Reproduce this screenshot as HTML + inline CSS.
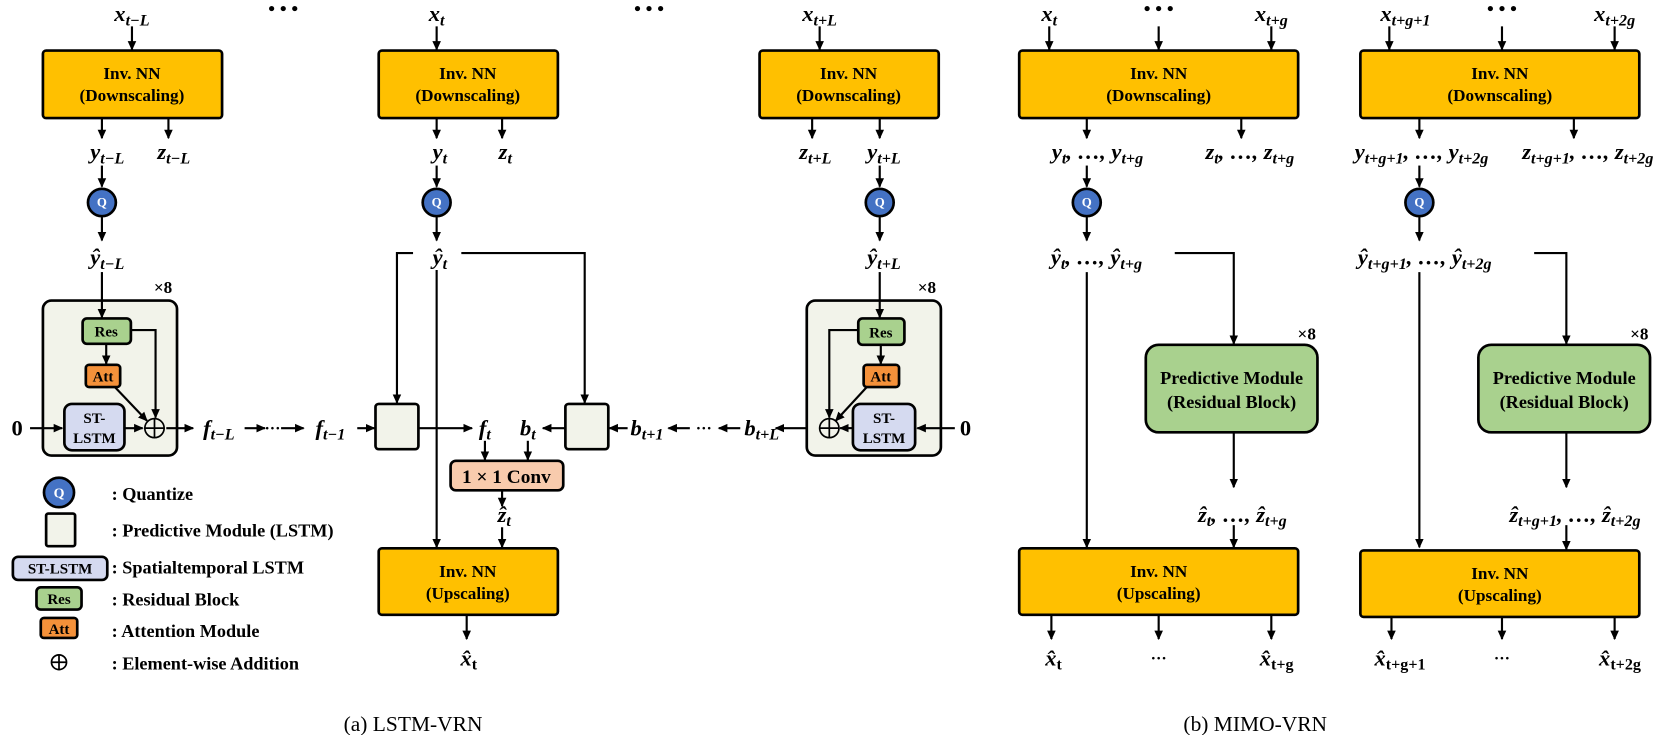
<!DOCTYPE html>
<html><head><meta charset="utf-8"><style>
html,body{margin:0;padding:0;background:#fff;}
svg{display:block;}
text{font-family:"Liberation Serif",serif;}
.b{font-weight:bold;font-size:16px;text-anchor:middle;}
.m{font-weight:bold;font-style:italic;font-size:21px;text-anchor:middle;}
.s{font-size:15px;}
.lg{font-weight:bold;font-size:17px;}
.cap{font-size:20px;text-anchor:middle;}
</style></head><body>
<svg width="1679" height="735" viewBox="0 0 1565 697" preserveAspectRatio="none" xmlns="http://www.w3.org/2000/svg">
<defs><marker id="a" markerWidth="9" markerHeight="9" refX="8" refY="4.5" orient="auto" markerUnits="userSpaceOnUse"><path d="M0,0.5 L9,4.5 L0,8.5 z" fill="#000"/></marker></defs>
<g stroke="#000" stroke-width="2.5">
<rect x="40" y="285" width="125" height="147" rx="8" fill="#F2F3EA"/>
<rect x="752" y="285" width="125" height="147" rx="8" fill="#F2F3EA"/>
</g>
<g stroke="#000" stroke-width="2" fill="none" marker-end="url(#a)">
<path d="M123,25V47"/><path d="M407,25V47"/><path d="M764,25V47"/><path d="M978,25V47"/><path d="M1080,25V47"/><path d="M1185,25V47"/><path d="M1295,25V47"/><path d="M1400,25V47"/><path d="M1505,25V47"/>
<path d="M95,112V131"/><path d="M157,112V131"/><path d="M407,112V131"/><path d="M468,112V131"/><path d="M757,112V131"/><path d="M820,112V131"/><path d="M1013,112V131"/><path d="M1157,112V131"/><path d="M1323,112V131"/><path d="M1467,112V131"/>
<path d="M95,157V177"/><path d="M407,157V177"/><path d="M820,157V177"/><path d="M1013,157V177"/><path d="M1323,157V177"/>
<path d="M95,206V228"/><path d="M407,206V228"/><path d="M820,206V228"/><path d="M1013,206V228"/><path d="M1323,206V228"/>
<path d="M95,258V301"/><path d="M99,326V345"/>
<path d="M122,313H145V396"/>
<path d="M107,367L137,399"/>
<path d="M28,406H58"/><path d="M116,406H133"/><path d="M155,406H180"/><path d="M228,406H247"/><path d="M262,406H283"/><path d="M333,406H349"/>
<path d="M385,240H370V382"/>
<path d="M430,240H545V382"/>
<path d="M407,256V519"/>
<path d="M390,406H440"/>
<path d="M527,406H506"/>
<path d="M585,406H568"/>
<path d="M643,406H623"/>
<path d="M690,406H670"/>
<path d="M752,406H723"/>
<path d="M820,258V301"/><path d="M821,327V345"/>
<path d="M800,313H773V396"/>
<path d="M808,367L779,399"/>
<path d="M795,406H783"/>
<path d="M890,406H855"/>
<path d="M452,418V436"/><path d="M492,418V436"/><path d="M468,465V480"/><path d="M468,500V519"/><path d="M435,583V606"/>
<path d="M1095,240H1150V326"/><path d="M1013,258V519"/><path d="M1150,410V462"/><path d="M1150,498V519"/>
<path d="M1430,240H1460V326"/><path d="M1323,258V519"/><path d="M1460,410V462"/><path d="M1460,498V521"/>
<path d="M980,583V606"/><path d="M1080,583V606"/><path d="M1185,583V606"/><path d="M1297,585V606"/><path d="M1400,585V606"/><path d="M1505,585V606"/>
</g>
<g stroke="#000" stroke-width="2.5">
<rect x="40" y="48" width="167" height="64" rx="3" fill="#FFC000"/>
<rect x="353" y="48" width="167" height="64" rx="3" fill="#FFC000"/>
<rect x="708" y="48" width="167" height="64" rx="3" fill="#FFC000"/>
<rect x="950" y="48" width="260" height="64" rx="3" fill="#FFC000"/>
<rect x="1268" y="48" width="260" height="64" rx="3" fill="#FFC000"/>
<rect x="353" y="520" width="167" height="63" rx="3" fill="#FFC000"/>
<rect x="950" y="520" width="260" height="63" rx="3" fill="#FFC000"/>
<rect x="1268" y="522" width="260" height="63" rx="3" fill="#FFC000"/>
<circle cx="95" cy="192" r="13" fill="#4472C4"/>
<circle cx="407" cy="192" r="13" fill="#4472C4"/>
<circle cx="820" cy="192" r="13" fill="#4472C4"/>
<circle cx="1013" cy="192" r="13" fill="#4472C4"/>
<circle cx="1323" cy="192" r="13" fill="#4472C4"/>
<rect x="77" y="302" width="45" height="24" rx="4" fill="#A9D18E"/>
<rect x="80" y="346" width="32" height="21" rx="3" fill="#F4913A"/>
<rect x="60" y="383" width="56" height="44" rx="7" fill="#D5DAF0"/>
<rect x="800" y="302" width="43" height="25" rx="4" fill="#A9D18E"/>
<rect x="805" y="346" width="33" height="21" rx="3" fill="#F4913A"/>
<rect x="795" y="383" width="58" height="44" rx="7" fill="#D5DAF0"/>
<rect x="350" y="383" width="40" height="43" rx="3" fill="#F2F3EA"/>
<rect x="527" y="383" width="40" height="43" rx="3" fill="#F2F3EA"/>
<rect x="420" y="437" width="105" height="28" rx="5" fill="#F8CBAD"/>
<rect x="1068" y="327" width="160" height="83" rx="12" fill="#A9D18E"/>
<rect x="1378" y="327" width="160" height="83" rx="12" fill="#A9D18E"/>
<circle cx="55" cy="467" r="14" fill="#4472C4"/>
<rect x="43" y="487" width="27" height="31" rx="2" fill="#F2F3EA"/>
<rect x="12" y="528" width="88" height="22" rx="5" fill="#D5DAF0"/>
<rect x="34" y="557" width="42" height="21" rx="4" fill="#A9D18E"/>
<rect x="38" y="586" width="34" height="19" rx="3" fill="#F4913A"/>
</g>
<g stroke="#000" stroke-width="1.6" fill="none">
<circle cx="144" cy="406" r="9" fill="#F2F3EA"/><path d="M135,406H153M144,397V415"/>
<circle cx="773" cy="406" r="9" fill="#F2F3EA"/><path d="M764,406H782M773,397V415"/>
<circle cx="55" cy="628" r="7"/><path d="M48,628H62M55,621V635"/>
</g>
<g class="b">
<text x="123" y="75">Inv. NN</text><text x="123" y="96">(Downscaling)</text>
<text x="436" y="75">Inv. NN</text><text x="436" y="96">(Downscaling)</text>
<text x="791" y="75">Inv. NN</text><text x="791" y="96">(Downscaling)</text>
<text x="1080" y="75">Inv. NN</text><text x="1080" y="96">(Downscaling)</text>
<text x="1398" y="75">Inv. NN</text><text x="1398" y="96">(Downscaling)</text>
<text x="436" y="547">Inv. NN</text><text x="436" y="568">(Upscaling)</text>
<text x="1080" y="547">Inv. NN</text><text x="1080" y="568">(Upscaling)</text>
<text x="1398" y="549">Inv. NN</text><text x="1398" y="570">(Upscaling)</text>
<text x="1148" y="364" font-size="17">Predictive Module</text><text x="1148" y="387" font-size="17">(Residual Block)</text>
<text x="1458" y="364" font-size="17">Predictive Module</text><text x="1458" y="387" font-size="17">(Residual Block)</text>
<text x="472" y="458" font-size="18">1 × 1 Conv</text>
<g fill="#fff" font-size="12"><text x="95" y="196">Q</text><text x="407" y="196">Q</text><text x="820" y="196">Q</text><text x="1013" y="196">Q</text><text x="1323" y="196">Q</text><text x="55" y="472" font-size="13">Q</text></g>
<text x="99" y="319" font-size="14">Res</text><text x="96" y="362" font-size="14">Att</text>
<text x="88" y="401" font-size="14">ST-</text><text x="88" y="420" font-size="14">LSTM</text>
<text x="821" y="320" font-size="14">Res</text><text x="821" y="362" font-size="14">Att</text>
<text x="824" y="401" font-size="14">ST-</text><text x="824" y="420" font-size="14">LSTM</text>
<text x="56" y="544" font-size="14">ST-LSTM</text><text x="55" y="573" font-size="14">Res</text><text x="55" y="601" font-size="14">Att</text>
<text x="152" y="278" font-size="16">×8</text><text x="864" y="278" font-size="16">×8</text>
<text x="1218" y="322" font-size="16">×8</text><text x="1528" y="322" font-size="16">×8</text>
<text x="16" y="413" font-size="21">0</text><text x="900" y="413" font-size="21">0</text>
<text x="264" y="14" font-size="18">• • •</text><text x="605" y="14" font-size="18">• • •</text>
<text x="1080" y="14" font-size="18">• • •</text><text x="1400" y="14" font-size="18">• • •</text>
</g>
<g class="lg">
<text x="104" y="474">: Quantize</text>
<text x="104" y="509">: Predictive Module (LSTM)</text>
<text x="104" y="544">: Spatialtemporal LSTM</text>
<text x="104" y="574">: Residual Block</text>
<text x="104" y="604">: Attention Module</text>
<text x="104" y="635">: Element-wise Addition</text>
</g>
<g class="m">
<text x="123" y="20">x<tspan class="s" dy="4">t−L</tspan></text>
<text x="407" y="20">x<tspan class="s" dy="4">t</tspan></text>
<text x="764" y="20">x<tspan class="s" dy="4">t+L</tspan></text>
<text x="978" y="20">x<tspan class="s" dy="4">t</tspan></text>
<text x="1185" y="20">x<tspan class="s" dy="4">t+g</tspan></text>
<text x="1310" y="20">x<tspan class="s" dy="4">t+g+1</tspan></text>
<text x="1505" y="20">x<tspan class="s" dy="4">t+2g</tspan></text>
<text x="100" y="151">y<tspan class="s" dy="4">t−L</tspan></text>
<text x="162" y="151">z<tspan class="s" dy="4">t−L</tspan></text>
<text x="410" y="151">y<tspan class="s" dy="4">t</tspan></text>
<text x="471" y="151">z<tspan class="s" dy="4">t</tspan></text>
<text x="760" y="151">z<tspan class="s" dy="4">t+L</tspan></text>
<text x="824" y="151">y<tspan class="s" dy="4">t+L</tspan></text>
<text x="1023" y="151">y<tspan class="s" dy="4">t</tspan><tspan dy="-4">, …, y</tspan><tspan class="s" dy="4">t+g</tspan></text>
<text x="1165" y="151">z<tspan class="s" dy="4">t</tspan><tspan dy="-4">, …, z</tspan><tspan class="s" dy="4">t+g</tspan></text>
<text x="1325" y="151">y<tspan class="s" dy="4">t+g+1</tspan><tspan dy="-4">, …, y</tspan><tspan class="s" dy="4">t+2g</tspan></text>
<text x="1480" y="151">z<tspan class="s" dy="4">t+g+1</tspan><tspan dy="-4">, …, z</tspan><tspan class="s" dy="4">t+2g</tspan></text>
<text x="100" y="251">ŷ<tspan class="s" dy="4">t−L</tspan></text>
<text x="410" y="251">ŷ<tspan class="s" dy="4">t</tspan></text>
<text x="824" y="251">ŷ<tspan class="s" dy="4">t+L</tspan></text>
<text x="1022" y="251">ŷ<tspan class="s" dy="4">t</tspan><tspan dy="-4">, …, ŷ</tspan><tspan class="s" dy="4">t+g</tspan></text>
<text x="1328" y="251">ŷ<tspan class="s" dy="4">t+g+1</tspan><tspan dy="-4">, …, ŷ</tspan><tspan class="s" dy="4">t+2g</tspan></text>
<text x="204" y="413">f<tspan class="s" dy="4">t−L</tspan></text>
<text x="254" y="411" font-style="normal" font-size="15">···</text>
<text x="308" y="413">f<tspan class="s" dy="4">t−1</tspan></text>
<text x="452" y="413">f<tspan class="s" dy="4">t</tspan></text>
<text x="492" y="413">b<tspan class="s" dy="4">t</tspan></text>
<text x="603" y="413">b<tspan class="s" dy="4">t+1</tspan></text>
<text x="656" y="411" font-style="normal" font-size="15">···</text>
<text x="710" y="413">b<tspan class="s" dy="4">t+L</tspan></text>
<text x="470" y="495">ẑ<tspan class="s" dy="4">t</tspan></text>
<text x="1158" y="495">ẑ<tspan class="s" dy="4">t</tspan><tspan dy="-4">, …, ẑ</tspan><tspan class="s" dy="4">t+g</tspan></text>
<text x="1468" y="495">ẑ<tspan class="s" dy="4">t+g+1</tspan><tspan dy="-4">, …, ẑ</tspan><tspan class="s" dy="4">t+2g</tspan></text>
<text x="437" y="631">x̂<tspan class="s" dy="4" font-style="normal">t</tspan></text>
<text x="982" y="631">x̂<tspan class="s" dy="4" font-style="normal">t</tspan></text>
<text x="1080" y="629" font-style="normal" font-size="15">···</text>
<text x="1190" y="631">x̂<tspan class="s" dy="4" font-style="normal">t+g</tspan></text>
<text x="1305" y="631">x̂<tspan class="s" dy="4" font-style="normal">t+g+1</tspan></text>
<text x="1400" y="629" font-style="normal" font-size="15">···</text>
<text x="1510" y="631">x̂<tspan class="s" dy="4" font-style="normal">t+2g</tspan></text>
</g>
<text class="cap" x="385" y="693">(a)  LSTM-VRN</text>
<text class="cap" x="1170" y="693">(b)  MIMO-VRN</text>
</svg>
</body></html>
